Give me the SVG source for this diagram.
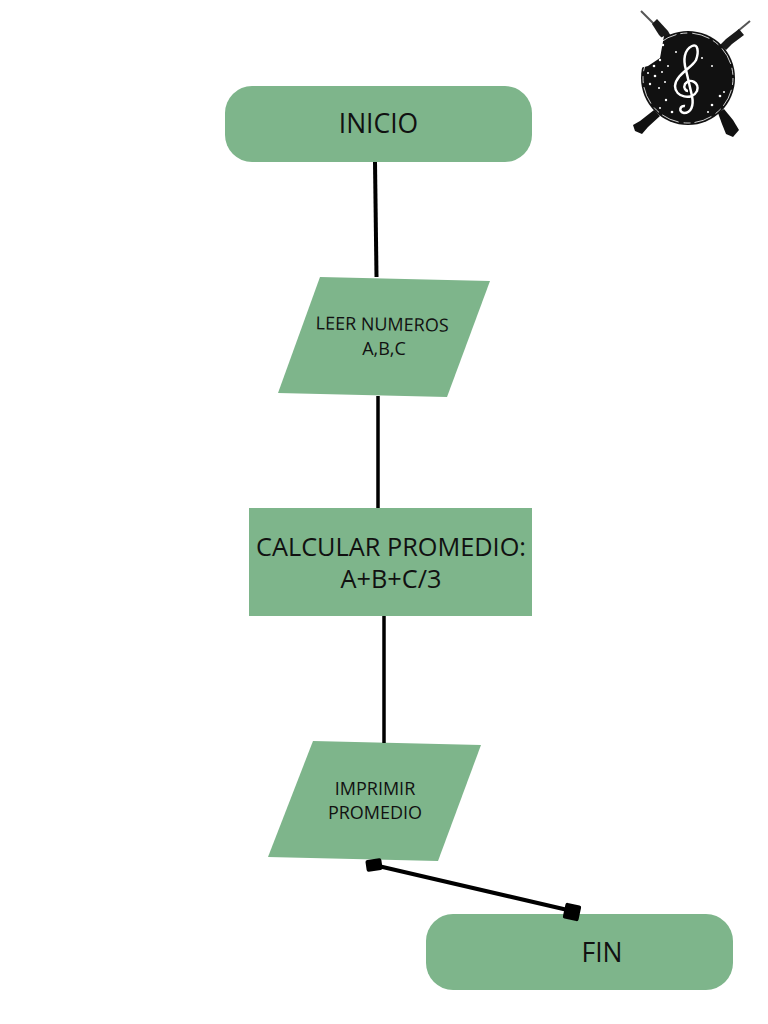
<svg xmlns="http://www.w3.org/2000/svg" width="768" height="1024" viewBox="0 0 768 1024">
<defs><style>
.n{fill:#7eb58b}
.t{font-family:"Open Sans","Noto Sans",sans-serif;fill:#111;text-anchor:middle}
.l{font-size:26.5px}.m{font-size:25.300px}.s{font-size:18px}
.c{stroke:#000;fill:none;stroke-width:3.500}
.b{stroke-width:4}
.k{fill:#000}
.w{fill:#fff}
</style></defs>
<rect width="768" height="1024" fill="#fff"/>
<g id="inicio"><rect class="n" x="225" y="86" width="307" height="76" rx="27"/><text class="t l" x="378.500" y="132.500">INICIO</text></g>
<g id="leer"><polygon class="n" points="320,277 490,281 447,397 278,393"/>
<text class="t s" transform="rotate(1 382 330)" x="382" y="330.500">LEER NUMEROS</text><text class="t s" x="384" y="354.500">A,B,C</text></g>
<g id="calcular"><rect class="n" x="249" y="508" width="283" height="108"/>
<text class="t m" x="391" y="555.500">CALCULAR PROMEDIO:</text><text class="t m" x="391" y="587.500">A+B+C/3</text></g>
<g id="imprimir"><polygon class="n" points="313,741 481,745 438,861 268,857"/>
<text class="t s" x="375" y="794.500">IMPRIMIR</text><text class="t s" x="375" y="818.500">PROMEDIO</text></g>
<g id="fin"><rect class="n" x="426" y="914" width="307" height="76" rx="27"/><text class="t l" x="602" y="961.500">FIN</text></g>
<g id="connectors">
<path class="c b" d="M375 162L376.500 277"/>
<path class="c" d="M378 396V508"/>
<path class="c" d="M384 616V743"/>
<path class="c b" d="M374 865L572 911"/>
<rect class="k" x="366" y="859" width="16" height="12" rx="2" transform="rotate(-8 374 865)"/>
<rect class="k" x="564" y="904" width="16" height="16" rx="2" transform="rotate(12 572 912)"/>
</g>
<g id="logo">
<path d="M641 11L654 24" stroke="#555" stroke-width="2" fill="none"/>
<path d="M652 24L657 19L668 31L672 38L666 42L659 35Z" fill="#1a1a1a"/>
<path d="M750 21L738 31" stroke="#555" stroke-width="2" fill="none"/>
<path d="M739 29L744 35L732 44L726 50L720 45L726 39Z" fill="#1a1a1a"/>
<path d="M654 110L660 116L648 127L642 134L635 131L633 125L640 121Z" fill="#111"/>
<path d="M718 113L724 109L733 120L739 130L733 137L726 134L722 124Z" fill="#111"/>
<circle cx="688" cy="78" r="47" fill="#111"/>
<path d="M640 50L664 36L660 58L648 66L640 68Z" fill="#fff"/>
<g class="w">
<circle cx="659" cy="50" r="1.500"/><circle cx="663" cy="45" r="1.200"/><circle cx="660" cy="60" r="1.200"/><circle cx="654" cy="66" r="1.300"/><circle cx="648" cy="73" r="1"/><circle cx="655" cy="76" r="1.300"/><circle cx="662" cy="72" r="1"/><circle cx="650" cy="84" r="1.200"/><circle cx="659" cy="88" r="1"/><circle cx="665" cy="82" r="1"/><circle cx="668" cy="66" r="1"/><circle cx="666" cy="100" r="1.200"/><circle cx="672" cy="112" r="1.300"/><circle cx="660" cy="108" r="1"/><circle cx="712" cy="105" r="1.300"/><circle cx="720" cy="96" r="1.300"/><circle cx="724" cy="92" r="1"/><circle cx="708" cy="112" r="1"/><circle cx="702" cy="58" r="1"/><circle cx="712" cy="66" r="1"/><circle cx="676" cy="52" r="1"/>
</g>
<circle cx="688" cy="78" r="45" fill="none" stroke="#fff" stroke-width="1" stroke-dasharray="7 5 18 4" opacity=".8"/>
<path d="M692 46C684 50 683 60 686 70L692 96C694 106 691 113 684 113C678 112 680 105 685 106M692 46C698 43 699 52 696 60C692 68 676 74 675 86C675 97 692 101 697 91C700 83 690 77 685 84C683 88 686 91 688 91" fill="none" stroke="#fff" stroke-width="2.500"/>
</g>
</svg>
